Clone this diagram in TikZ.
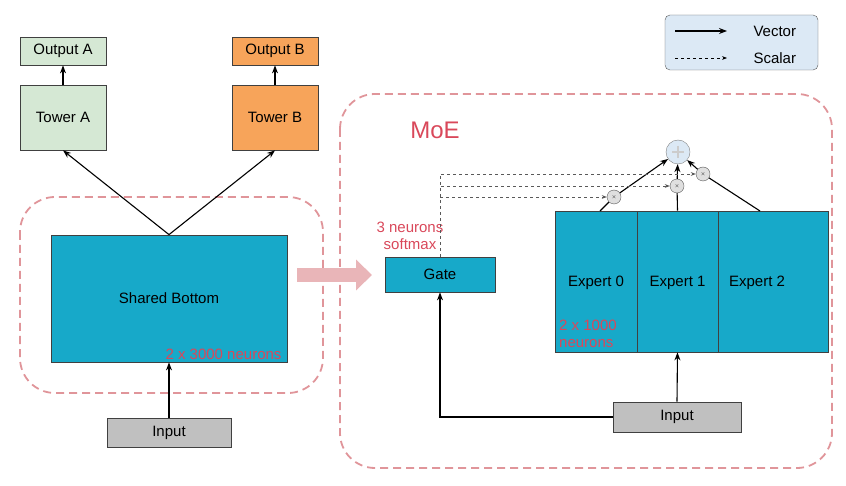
\documentclass[tikz,border=0pt]{standalone}
\usepackage{fontspec}
\setmainfont{Liberation Sans}
\usetikzlibrary{arrows.meta,shapes.geometric}
\definecolor{teal}{HTML}{17A9C9}
\definecolor{grn}{HTML}{D5E8D4}
\definecolor{org}{HTML}{F7A45A}
\definecolor{gry}{HTML}{C0C0C0}
\definecolor{pink}{HTML}{E0959A}
\definecolor{redt}{HTML}{D9485A}
\definecolor{leg}{HTML}{DCE9F5}
\begin{document}
\begin{tikzpicture}[x=1pt,y=-1pt,
 box/.style={draw=black!75,line width=0.8pt,minimum width=#1,inner sep=0pt,font=\fontsize{15}{17}\selectfont},
 arr/.style={-{Stealth[length=8pt]},line width=1.1pt},
 dsh/.style={dashed,line width=0.7pt,gray!70!black},
 region/.style={draw=pink,dashed,dash pattern=on 8pt off 5pt,line width=1.8pt,rounded corners=35pt},
 mult/.style={circle,draw=gray!70!black,fill=gray!25,minimum size=#1,inner sep=0pt},
 lbl/.style={text=redt,font=\fontsize{15}{17}\selectfont,align=left}]
\useasboundingbox (0,0) rectangle (846,486);
\draw[region] (20,197) rectangle (323,393);
\draw[region] (340,94) rectangle (832,468);
\node[lbl,font=\fontsize{24}{26}\selectfont] (moe) at (435,130) {MoE};
% left
\node[box=86pt,fill=grn,minimum height=28pt] (oa) at (63,51) {Output A};
\node[box=86pt,fill=grn,minimum height=65pt] (ta) at (63,117.5) {Tower A};
\node[box=86pt,fill=org,minimum height=28pt] (ob) at (275,51) {Output B};
\node[box=86pt,fill=org,minimum height=65pt] (tb) at (275,117.5) {Tower B};
\node[box=236pt,fill=teal,minimum height=127pt] (sb) at (169,298.5) {Shared Bottom};
\node[lbl,anchor=east] (n3000) at (285,354) {2 x 3000 neurons};
\node[box=124pt,fill=gry,minimum height=29pt] (inl) at (169,432.5) {Input};
\draw[arr] (ta.north) -- (oa.south);
\draw[arr] (tb.north) -- (ob.south);
\draw[arr] (sb.north) -- (ta.south);
\draw[arr] (sb.north) -- (tb.south);
\draw[arr] (inl.north) -- (sb.south);
% big arrow
\coordinate (ba1) at (297,275);
\coordinate (ba2) at (372,275);
\draw[pink!70,line width=14pt,-{Triangle[length=16pt,width=30pt]}] (ba1) -- (ba2);
% right
\node[box=110pt,fill=teal,minimum height=35pt] (gate) at (440,274.5) {Gate};
\node[lbl,anchor=south,align=center] (sm) at (410,253) {3 neurons\\softmax};
\node[box=82pt,fill=teal,minimum height=141pt] (e0) at (596,281.5) {};
\node[box=81pt,fill=teal,minimum height=141pt] (e1) at (677.5,281.5) {};
\node[box=110pt,fill=teal,minimum height=141pt] (e2) at (773,281.5) {};
\node[font=\fontsize{15}{17}\selectfont] (t0l) at (596,283) {Expert 0};
\node[font=\fontsize{15}{17}\selectfont] (t1l) at (677.5,283) {Expert 1};
\node[font=\fontsize{15}{17}\selectfont] (t2l) at (757,283) {Expert 2};
\node[lbl,anchor=west,inner sep=0pt] (n1000) at (559,334) {2 x 1000\\neurons};
\node[box=128pt,fill=gry,minimum height=30pt] (inr) at (677,417) {Input};
\draw[arr] (inr.north) -- (e1.south);
\draw[arr] (inr.west) -| (gate.south);
% combine
\node[mult=24pt,fill=leg,draw=gray] (plus) at (678,152) {};
\draw[line width=2.5pt,white!60!gray] (plus.center)++(-6,0) -- ++(12,0) (plus.center)++(0,-6) -- ++(0,12);
\node[mult=14pt] (m0) at (614,197) {$\scriptscriptstyle\times$};
\node[mult=14pt] (m1) at (677,186) {$\scriptscriptstyle\times$};
\node[mult=14pt] (m2) at (703,174) {$\scriptscriptstyle\times$};
\coordinate (t0) at (600,211);
\coordinate (t2) at (760,211);
\draw[line width=1.1pt] (t0) -- (m0);
\draw[line width=1.1pt] (e1.north) -- (m1);
\draw[line width=1.1pt] (t2) -- (m2);
\draw[arr] (m0) -- (plus);
\draw[arr] (m1) -- (plus);
\draw[arr] (m2) -- (plus);
\draw[dsh,-{Stealth[length=5pt]}] (gate.north) |- (m2.west);
\draw[dsh,-{Stealth[length=5pt]}] (gate.north) |- (m1.west);
\draw[dsh,-{Stealth[length=5pt]}] (gate.north) |- (m0.west);
% legend
\node[draw=gray!70!black,fill=leg,rounded corners=5pt,minimum width=153pt,minimum height=55pt] (lg) at (741.5,42.5) {};
\coordinate (l1a) at (675,31); \coordinate (l1b) at (727,31);
\coordinate (l2a) at (675,58); \coordinate (l2b) at (727,58);
\draw[arr,line width=1.2pt] (l1a) -- (l1b);
\draw[dsh,-{Stealth[length=5pt]},black] (l2a) -- (l2b);
\node[font=\fontsize{15}{17}\selectfont,anchor=west] (lv) at (750,31) {Vector};
\node[font=\fontsize{15}{17}\selectfont,anchor=west] (ls) at (750,58) {Scalar};
\end{tikzpicture}
\end{document}
